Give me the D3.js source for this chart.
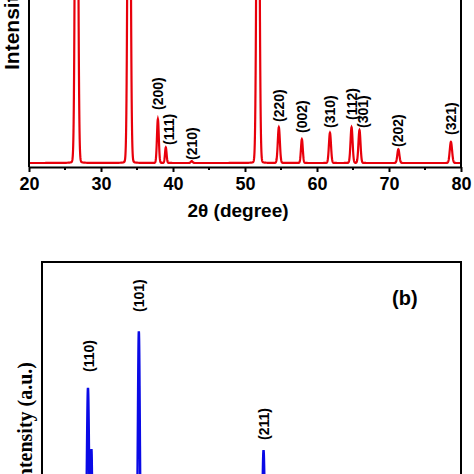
<!DOCTYPE html>
<html><head><meta charset="utf-8">
<script src="https://cdn.jsdelivr.net/npm/d3@7"></script>
<style>body{margin:0;background:#fff}svg{display:block}</style>
</head><body>
<svg id="chart" width="474" height="474"></svg>
<script>
// Panel (a): peak positions (2θ), heights (a.u.) and hkl labels
const peaksA = [26.6, 33.9, 37.9, 39.0, 42.6, 51.8, 54.7, 57.9, 61.8, 64.8, 65.9, 71.3, 78.6];
const heightsA = [700, 650, 48, 17, 2, 600, 39, 26, 33, 39, 36, 15, 23];
const widthsA = [0.2, 0.2, 0.15, 0.13, 0.15, 0.2, 0.17, 0.15, 0.17, 0.17, 0.17, 0.17, 0.19];
const labelsA = ["", "", "(200)", "(111)", "(210)", "", "(220)", "(002)", "(310)", "(112)", "(301)", "(202)", "(321)"];
const labelPosA = [null, null, [37.9, 110], [39.5, 145], [42.6, 160], null, [54.7, 122], [57.9, 133], [61.8, 128], [64.8, 120], [66.4, 128], [71.3, 147], [78.6, 135]];

// Panel (b)
const peaksB = [26.6, 27.1, 33.9, 51.8];
const heightsB = [188, 120, 250, 120];
const widthsB = [0.18, 0.12, 0.16, 0.18];
const labelsB = [["(110)", 26.8, 372], ["(101)", 33.9, 312], ["(211)", 51.8, 440]];

const xTicks = [20, 30, 40, 50, 60, 70, 80];
const xMinor = [25, 35, 45, 55, 65, 75];

const svg = d3.select("#chart");

// pseudo-Voigt profile (mostly Gaussian, small Lorentzian share)
function trace(peaks, heights, widths) {
  const pts = [];
  for (let t = 20; t <= 80; t += 0.02) {
    let v = 0;
    peaks.forEach((p, i) => {
      const w = widths[i], dx = t - p;
      const g = Math.exp(-Math.LN2 * dx * dx / (w * w));
      const l = (w * w) / (dx * dx + w * w);
      v += heights[i] * (0.9 * g + 0.1 * l * 0.15);
    });
    pts.push([t, v]);
  }
  return pts;
}

const font = "Liberation Sans, Arial";

// ---- panel (a)
const xa = d3.scaleLinear().domain([20, 80]).range([29, 461]);
const ya = d3.scaleLinear().domain([0, 400]).range([163, -237]);

const ga = svg.append("g");
ga.append("defs").append("clipPath").attr("id", "clipA")
  .append("rect").attr("x", 29).attr("y", -10).attr("width", 432).attr("height", 177);
ga.append("path")
  .datum(trace(peaksA, heightsA, widthsA))
  .attr("clip-path", "url(#clipA)")
  .attr("fill", "none").attr("stroke", "#e8000b").attr("stroke-width", 2.2)
  .attr("d", d3.line().x(d => xa(d[0])).y(d => ya(d[1])));

ga.append("line").attr("x1", 29).attr("x2", 29).attr("y1", -5).attr("y2", 167).attr("stroke", "#000").attr("stroke-width", 2);
ga.append("line").attr("x1", 461).attr("x2", 461).attr("y1", -5).attr("y2", 167).attr("stroke", "#000").attr("stroke-width", 2);
const axA = ga.append("g").attr("transform", "translate(0,167)")
  .call(d3.axisBottom(xa).tickValues(xTicks).tickSize(5).tickSizeOuter(0));
axA.select(".domain").attr("stroke-width", 2);
axA.selectAll(".tick line").attr("stroke-width", 2);
axA.selectAll("text").attr("font-family", font).attr("font-weight", "bold").attr("font-size", 18).attr("dy", "0.85em");
ga.selectAll(".minA").data(xMinor).join("line")
  .attr("x1", d => xa(d)).attr("x2", d => xa(d)).attr("y1", 167).attr("y2", 170)
  .attr("stroke", "#000").attr("stroke-width", 2);

ga.append("text").attr("x", 238).attr("y", 217).attr("text-anchor", "middle")
  .attr("font-family", font).attr("font-weight", "bold").attr("font-size", 19)
  .text("2θ (degree)");
ga.append("text").attr("transform", "translate(19,70) rotate(-90)")
  .attr("font-family", font).attr("font-weight", "bold").attr("font-size", 21)
  .text("Intensity (a.u.)");

labelsA.forEach((l, i) => {
  if (!l) return;
  const [px, py] = labelPosA[i];
  ga.append("text").attr("transform", `translate(${xa(px) + 5},${py}) rotate(-90)`)
    .attr("font-family", font).attr("font-weight", "bold").attr("font-size", 14)
    .text(l);
});

// ---- panel (b)
const xb = d3.scaleLinear().domain([20, 80]).range([42, 460]);
const yb = d3.scaleLinear().domain([0, 250]).range([560, 310]);
const gb = svg.append("g");
gb.append("defs").append("clipPath").attr("id", "clipB")
  .append("rect").attr("x", 42).attr("y", 262).attr("width", 418).attr("height", 300);
gb.append("path")
  .datum(trace(peaksB, heightsB, widthsB))
  .attr("clip-path", "url(#clipB)")
  .attr("fill", "none").attr("stroke", "#0a0ae6").attr("stroke-width", 2.4)
  .attr("d", d3.line().x(d => xb(d[0])).y(d => yb(d[1])));
gb.append("rect").attr("x", 42).attr("y", 262).attr("width", 419).attr("height", 260)
  .attr("fill", "none").attr("stroke", "#000").attr("stroke-width", 2);
labelsB.forEach(([l, px, py]) => {
  gb.append("text").attr("transform", `translate(${xb(px) + 5},${py}) rotate(-90)`)
    .attr("font-family", font).attr("font-weight", "bold").attr("font-size", 14)
    .text(l);
});
gb.append("text").attr("x", 392).attr("y", 305)
  .attr("font-family", font).attr("font-weight", "bold").attr("font-size", 20)
  .text("(b)");
gb.append("text").attr("transform", "translate(32,362) rotate(-90)").attr("text-anchor", "end")
  .attr("font-family", "Liberation Serif, Times New Roman").attr("font-weight", "bold").attr("font-size", 20)
  .text("Intensity (a.u.)");
</script>
</body></html>
